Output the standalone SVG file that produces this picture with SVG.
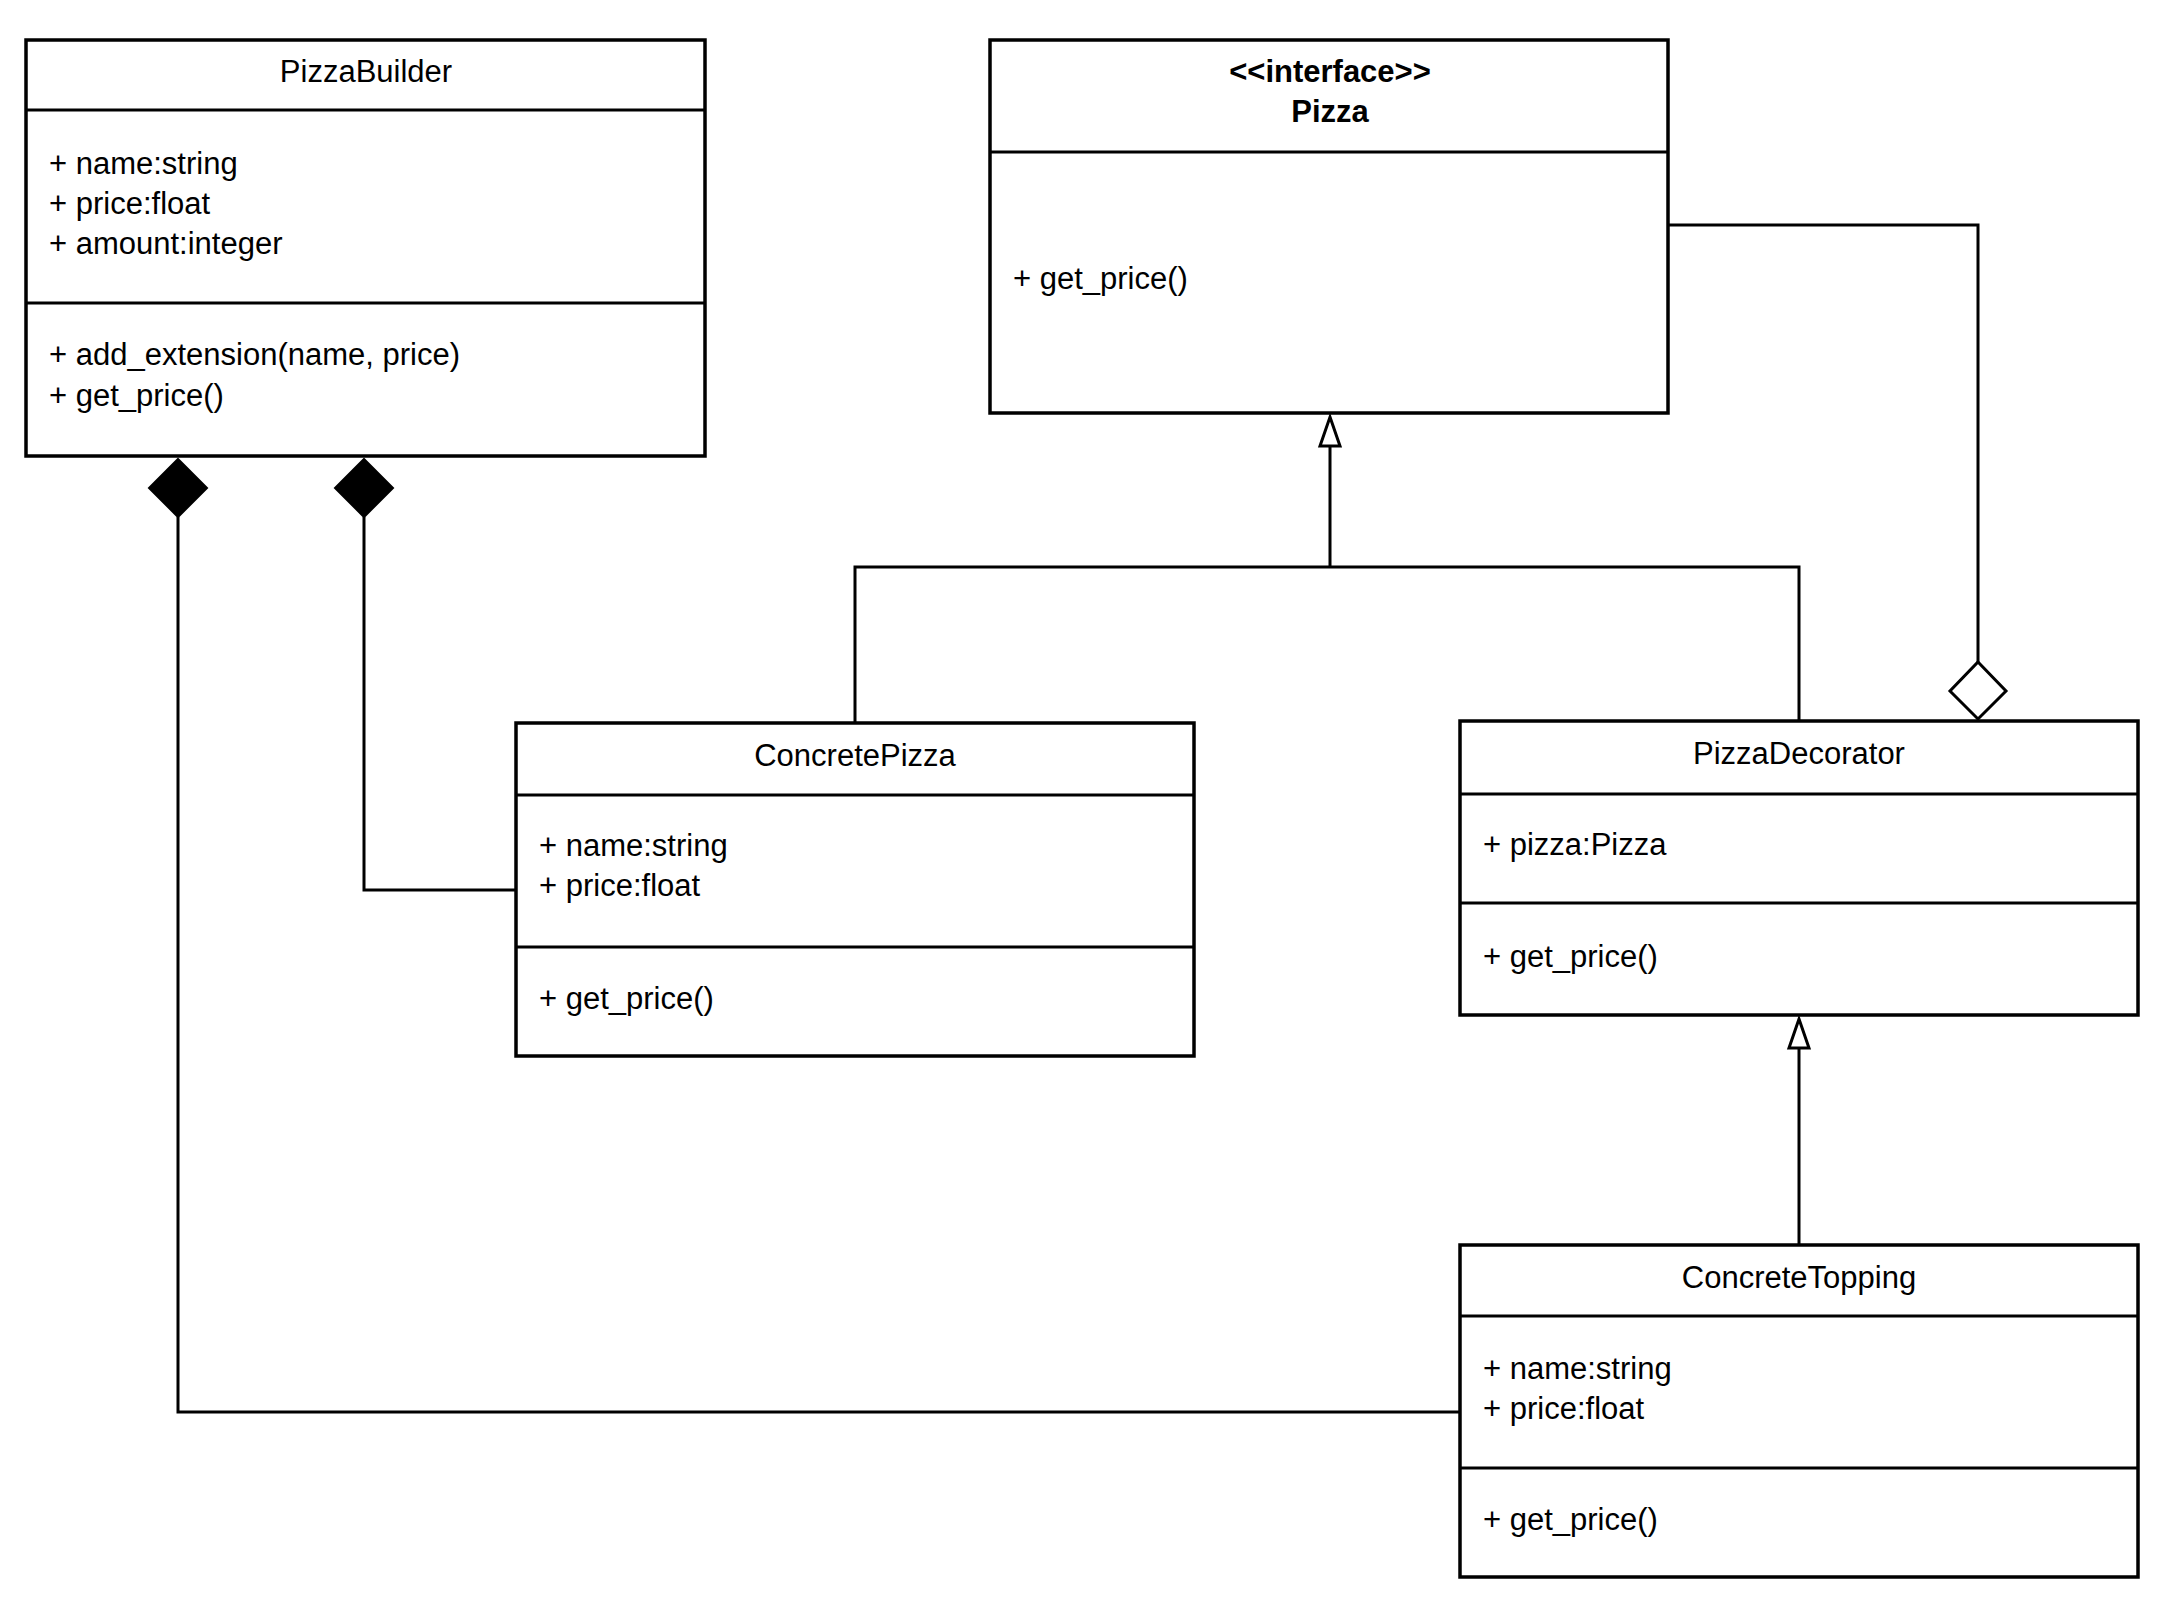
<svg xmlns="http://www.w3.org/2000/svg" width="2169" height="1613" viewBox="0 0 2169 1613">
<style>
.box{fill:#fff;stroke:#000;stroke-width:3.5}
.ln{stroke:#000;stroke-width:3;fill:none}
text{font-family:"Liberation Sans",Arial,sans-serif;font-size:31px;fill:#000}
.c{text-anchor:middle}
.b{font-weight:bold}
.e{fill:none;stroke:#000;stroke-width:3}
</style>
<rect width="2169" height="1613" fill="#fff"/>
<g id="connectors">
<path class="e" d="M178 517 V1412 H1460"/>
<path d="M178 459 L207 488 L178 517 L149 488 Z" fill="#000" stroke="#000" stroke-width="2"/>
<path class="e" d="M364 517 V890 H516"/>
<path d="M364 459 L393 488 L364 517 L335 488 Z" fill="#000" stroke="#000" stroke-width="2"/>
<path class="e" d="M855 723 V567 H1330 M1799 721 V567 H1330 V443"/>
<path d="M1330 417 L1340 446 L1320 446 Z" fill="#fff" stroke="#000" stroke-width="3"/>
<path class="e" d="M1668 225 H1978 V662"/>
<path d="M1978 662 L2006 691 L1978 719 L1950 691 Z" fill="#fff" stroke="#000" stroke-width="3"/>
<path class="e" d="M1799 1245 V1047"/>
<path d="M1799 1019 L1809 1048 L1789 1048 Z" fill="#fff" stroke="#000" stroke-width="3"/>
</g>
<g id="PizzaBuilder">
<rect class="box" x="26" y="40" width="679" height="416"/>
<path class="ln" d="M26 110 H705 M26 303 H705"/>
<text class="c" x="366" y="82">PizzaBuilder</text>
<text x="49" y="174">+ name:string</text>
<text x="49" y="214">+ price:float</text>
<text x="49" y="254">+ amount:integer</text>
<text x="49" y="365">+ add_extension(name, price)</text>
<text x="49" y="406">+ get_price()</text>
</g>
<g id="Pizza">
<rect class="box" x="990" y="40" width="678" height="373"/>
<path class="ln" d="M990 152 H1668"/>
<text class="c b" x="1330" y="82">&lt;&lt;interface&gt;&gt;</text>
<text class="c b" x="1330" y="122">Pizza</text>
<text x="1013" y="289">+ get_price()</text>
</g>
<g id="ConcretePizza">
<rect class="box" x="516" y="723" width="678" height="333"/>
<path class="ln" d="M516 795 H1194 M516 947 H1194"/>
<text class="c" x="855" y="766">ConcretePizza</text>
<text x="539" y="856">+ name:string</text>
<text x="539" y="896">+ price:float</text>
<text x="539" y="1009">+ get_price()</text>
</g>
<g id="PizzaDecorator">
<rect class="box" x="1460" y="721" width="678" height="294"/>
<path class="ln" d="M1460 794 H2138 M1460 903 H2138"/>
<text class="c" x="1799" y="764">PizzaDecorator</text>
<text x="1483" y="855">+ pizza:Pizza</text>
<text x="1483" y="967">+ get_price()</text>
</g>
<g id="ConcreteTopping">
<rect class="box" x="1460" y="1245" width="678" height="332"/>
<path class="ln" d="M1460 1316 H2138 M1460 1468 H2138"/>
<text class="c" x="1799" y="1288">ConcreteTopping</text>
<text x="1483" y="1379">+ name:string</text>
<text x="1483" y="1419">+ price:float</text>
<text x="1483" y="1530">+ get_price()</text>
</g>
</svg>
